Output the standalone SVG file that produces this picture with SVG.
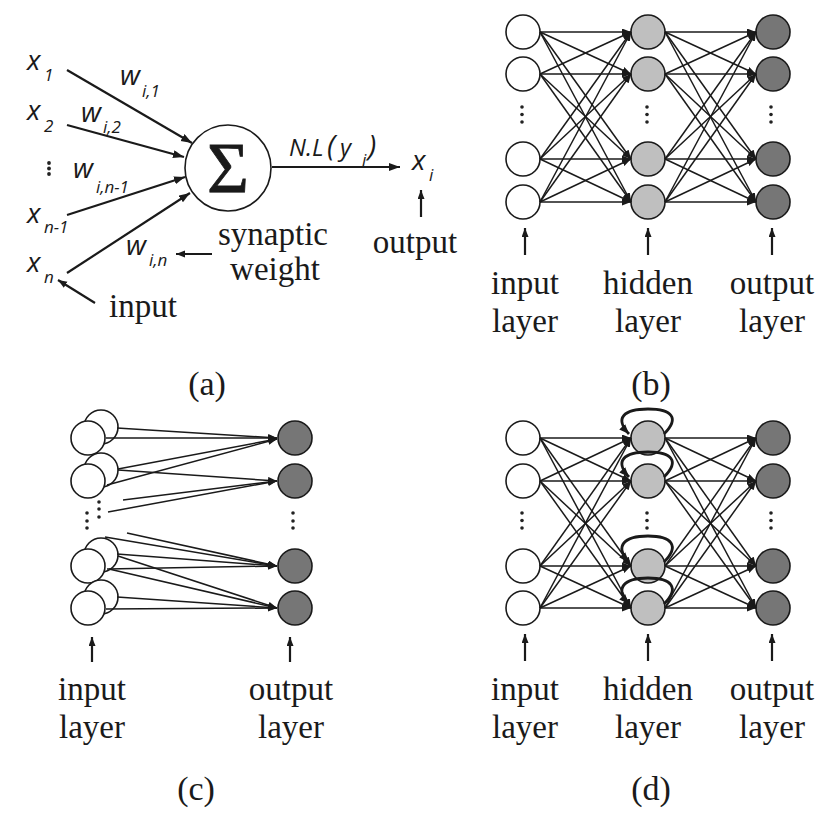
<svg xmlns="http://www.w3.org/2000/svg" width="834" height="828" viewBox="0 0 834 828">
  <style>
    .serif { font-family: "Liberation Serif", "Times New Roman", serif; font-size: 33px; fill: #1a1a1a; text-anchor: middle; }
    .cap { font-family: "Liberation Serif", "Times New Roman", serif; font-size: 34px; fill: #1a1a1a; text-anchor: middle; }
    .it { font-family: "Open Sans", "Noto Sans", sans-serif; font-style: italic; font-size: 28px; fill: #1a1a1a; }
    .sub { font-size: 17px; }
    .in { fill: #ffffff; stroke: #1a1a1a; stroke-width: 1.6; }
    .hid { fill: #bfbfbf; stroke: #1a1a1a; stroke-width: 1.6; }
    .out { fill: #767676; stroke: #1a1a1a; stroke-width: 1.6; }
    .dot { fill: #222; }
    .w { stroke: #1a1a1a; stroke-width: 1.5; fill: none; marker-end: url(#ah); }
    .wa { stroke: #1a1a1a; stroke-width: 2.2; fill: none; marker-end: url(#ahA); }
    .lbl { stroke: #1a1a1a; stroke-width: 2.2; fill: none; marker-end: url(#ah); }
    .loop { stroke: #1a1a1a; stroke-width: 2.8; fill: none; marker-end: url(#ahL); }
  </style>
  <defs>
    <marker id="ah" markerUnits="userSpaceOnUse" markerWidth="10" markerHeight="8" refX="9" refY="3.5" orient="auto">
      <path d="M0,0 L9,3.5 L0,7 Z" fill="#1a1a1a"/>
    </marker>
    <marker id="ahA" markerUnits="userSpaceOnUse" markerWidth="12" markerHeight="10" refX="11" refY="4" orient="auto">
      <path d="M0,0 L11,4 L0,8 Z" fill="#1a1a1a"/>
    </marker>
    <marker id="ahL" markerUnits="userSpaceOnUse" markerWidth="12" markerHeight="10" refX="10" refY="4" orient="auto">
      <path d="M0,0 L10,4 L0,8 Z" fill="#1a1a1a"/>
    </marker>
  </defs>

  <!-- ===== (a) single neuron ===== -->
  <g id="a-sum">
    <circle cx="228" cy="168" r="43" fill="#fff" stroke="#1a1a1a" stroke-width="1.6"/>
    <text x="228" y="192" style="font-family:'Liberation Serif','Times New Roman',serif;font-size:72px;fill:#1a1a1a;text-anchor:middle;stroke:#1a1a1a;stroke-width:0.8">Σ</text>
  </g>
  <g id="a-inputs">
    <text class="it" x="27" y="70">x<tspan class="sub" x="44" y="81">1</tspan></text>
    <text class="it" x="27" y="120">x<tspan class="sub" x="44" y="132">2</tspan></text>
    <circle class="dot" cx="49" cy="163" r="1.9"/>
    <circle class="dot" cx="49" cy="168.5" r="1.9"/>
    <circle class="dot" cx="49" cy="174" r="1.9"/>
    <text class="it" x="27" y="223">x<tspan class="sub" x="44" y="233">n-1</tspan></text>
    <text class="it" x="27" y="272">x<tspan class="sub" x="44" y="283">n</tspan></text>
  </g>
  <g id="a-weights">
    <text class="it" x="120" y="85">w<tspan class="sub" x="142" y="97">i,1</tspan></text>
    <text class="it" x="81" y="122">w<tspan class="sub" x="103" y="133">i,2</tspan></text>
    <text class="it" x="73" y="178">w<tspan class="sub" x="96" y="193">i,n-1</tspan></text>
    <text class="it" x="126" y="255">w<tspan class="sub" x="149" y="266">i,n</tspan></text>
  </g>
  <g id="a-output">
    <text class="it" x="289" y="156" style="font-size:24px">N.L<tspan x="327" style="font-size:29px">(</tspan><tspan x="340">y</tspan><tspan class="sub" x="362" y="166">i</tspan><tspan x="368" y="156" style="font-size:29px">)</tspan></text>
    <text class="it" x="412" y="170">x<tspan class="sub" x="429" y="181">i</tspan></text>
  </g>
  <g id="a-labels">
    <text class="serif" x="273" y="245">synaptic</text>
    <text class="serif" x="275" y="280">weight</text>
    <text class="serif" x="415" y="253">output</text>
    <text class="serif" x="143" y="317">input</text>
    <text class="cap" x="207" y="395">(a)</text>
  </g>

  <!-- ===== (b) feed-forward network ===== -->
  <g id="b-in-1"><circle class="in" cx="523" cy="32" r="17"/></g>
  <g id="b-in-2"><circle class="in" cx="523" cy="74" r="17"/></g>
  <g id="b-in-3"><circle class="in" cx="523" cy="159" r="17"/></g>
  <g id="b-in-4"><circle class="in" cx="523" cy="202" r="17"/></g>
  <g id="b-hid-1"><circle class="hid" cx="648" cy="32" r="17"/></g>
  <g id="b-hid-2"><circle class="hid" cx="648" cy="74" r="17"/></g>
  <g id="b-hid-3"><circle class="hid" cx="648" cy="159" r="17"/></g>
  <g id="b-hid-4"><circle class="hid" cx="648" cy="202" r="17"/></g>
  <g id="b-out-1"><circle class="out" cx="773" cy="32" r="17"/></g>
  <g id="b-out-2"><circle class="out" cx="773" cy="74" r="17"/></g>
  <g id="b-out-3"><circle class="out" cx="773" cy="159" r="17"/></g>
  <g id="b-out-4"><circle class="out" cx="773" cy="202" r="17"/></g>
  <g id="b-ellipses">
    <circle class="dot" cx="522" cy="107" r="1.8"/><circle class="dot" cx="522" cy="114.5" r="1.8"/><circle class="dot" cx="522" cy="122" r="1.8"/>
    <circle class="dot" cx="647" cy="107" r="1.8"/><circle class="dot" cx="647" cy="114.5" r="1.8"/><circle class="dot" cx="647" cy="122" r="1.8"/>
    <circle class="dot" cx="771" cy="107" r="1.8"/><circle class="dot" cx="771" cy="114.5" r="1.8"/><circle class="dot" cx="771" cy="122" r="1.8"/>
  </g>
  <g id="b-labels">
    <text class="serif" x="525" y="294">input</text>
    <text class="serif" x="525" y="332">layer</text>
    <text class="serif" x="648" y="294">hidden</text>
    <text class="serif" x="648" y="332">layer</text>
    <text class="serif" x="772" y="294">output</text>
    <text class="serif" x="772" y="332">layer</text>
    <text class="cap" x="651" y="395">(b)</text>
  </g>

  <!-- ===== (c) single-layer network ===== -->
  <g id="c-in-1"><circle class="in" cx="101" cy="427" r="17"/><circle class="in" cx="88" cy="438" r="17"/></g>
  <g id="c-in-2"><circle class="in" cx="101" cy="470" r="17"/><circle class="in" cx="88" cy="481" r="17"/></g>
  <g id="c-in-3"><circle class="in" cx="101" cy="555" r="17"/><circle class="in" cx="88" cy="566" r="17"/></g>
  <g id="c-in-4"><circle class="in" cx="101" cy="597" r="17"/><circle class="in" cx="88" cy="608" r="17"/></g>
  <g id="c-out-1"><circle class="out" cx="295" cy="438" r="17"/></g>
  <g id="c-out-2"><circle class="out" cx="295" cy="481" r="17"/></g>
  <g id="c-out-3"><circle class="out" cx="295" cy="566" r="17"/></g>
  <g id="c-out-4"><circle class="out" cx="295" cy="608" r="17"/></g>
  <g id="c-ellipses">
    <circle class="dot" cx="87" cy="513" r="1.8"/><circle class="dot" cx="87" cy="521" r="1.8"/><circle class="dot" cx="87" cy="528" r="1.8"/>
    <circle class="dot" cx="99" cy="502" r="1.8"/><circle class="dot" cx="99" cy="509" r="1.8"/><circle class="dot" cx="99" cy="517" r="1.8"/>
    <circle class="dot" cx="293" cy="513" r="1.8"/><circle class="dot" cx="293" cy="521" r="1.8"/><circle class="dot" cx="293" cy="528" r="1.8"/>
  </g>
  <g id="c-labels">
    <text class="serif" x="92" y="700">input</text>
    <text class="serif" x="92" y="738">layer</text>
    <text class="serif" x="291" y="700">output</text>
    <text class="serif" x="291" y="738">layer</text>
    <text class="cap" x="196" y="800">(c)</text>
  </g>

  <!-- ===== (d) recurrent network ===== -->
  <g id="d-in-1"><circle class="in" cx="523" cy="438" r="17"/></g>
  <g id="d-in-2"><circle class="in" cx="523" cy="481" r="17"/></g>
  <g id="d-in-3"><circle class="in" cx="523" cy="566" r="17"/></g>
  <g id="d-in-4"><circle class="in" cx="523" cy="608" r="17"/></g>
  <g id="d-hid-1"><circle class="hid" cx="648" cy="438" r="17"/></g>
  <g id="d-hid-2"><circle class="hid" cx="648" cy="481" r="17"/></g>
  <g id="d-hid-3"><circle class="hid" cx="648" cy="566" r="17"/></g>
  <g id="d-hid-4"><circle class="hid" cx="648" cy="608" r="17"/></g>
  <g id="d-out-1"><circle class="out" cx="773" cy="438" r="17"/></g>
  <g id="d-out-2"><circle class="out" cx="773" cy="481" r="17"/></g>
  <g id="d-out-3"><circle class="out" cx="773" cy="566" r="17"/></g>
  <g id="d-out-4"><circle class="out" cx="773" cy="608" r="17"/></g>
  <g id="d-ellipses">
    <circle class="dot" cx="522" cy="513" r="1.8"/><circle class="dot" cx="522" cy="520.5" r="1.8"/><circle class="dot" cx="522" cy="528" r="1.8"/>
    <circle class="dot" cx="647" cy="513" r="1.8"/><circle class="dot" cx="647" cy="520.5" r="1.8"/><circle class="dot" cx="647" cy="528" r="1.8"/>
    <circle class="dot" cx="771" cy="513" r="1.8"/><circle class="dot" cx="771" cy="520.5" r="1.8"/><circle class="dot" cx="771" cy="528" r="1.8"/>
  </g>
  <g id="d-labels">
    <text class="serif" x="525" y="700">input</text>
    <text class="serif" x="525" y="738">layer</text>
    <text class="serif" x="648" y="700">hidden</text>
    <text class="serif" x="648" y="738">layer</text>
    <text class="serif" x="772" y="700">output</text>
    <text class="serif" x="772" y="738">layer</text>
    <text class="cap" x="651" y="800">(d)</text>
  </g>

  <!-- ===== connectors ===== -->
  <g id="connectors">
    <!-- (a) -->
    <line class="wa" x1="67" y1="70" x2="192" y2="143"/>
    <line class="wa" x1="67" y1="125" x2="184" y2="157"/>
    <line class="wa" x1="67" y1="215" x2="185" y2="177"/>
    <line class="wa" x1="67" y1="273" x2="190" y2="193"/>
    <line class="wa" x1="272" y1="167" x2="400" y2="167"/>
    <line class="lbl" x1="421" y1="217" x2="421" y2="190"/>
    <line class="lbl" x1="212" y1="254" x2="176" y2="254"/>
    <line class="lbl" x1="95" y1="303" x2="58" y2="280"/>

    <!-- (b) input to hidden -->
    <line class="w" x1="540" y1="32" x2="631" y2="32"/>
    <line class="w" x1="540" y1="32" x2="631" y2="74"/>
    <line class="w" x1="540" y1="32" x2="631" y2="159"/>
    <line class="w" x1="540" y1="32" x2="631" y2="202"/>
    <line class="w" x1="540" y1="74" x2="631" y2="32"/>
    <line class="w" x1="540" y1="74" x2="631" y2="74"/>
    <line class="w" x1="540" y1="74" x2="631" y2="159"/>
    <line class="w" x1="540" y1="74" x2="631" y2="202"/>
    <line class="w" x1="540" y1="159" x2="631" y2="32"/>
    <line class="w" x1="540" y1="159" x2="631" y2="74"/>
    <line class="w" x1="540" y1="159" x2="631" y2="159"/>
    <line class="w" x1="540" y1="159" x2="631" y2="202"/>
    <line class="w" x1="540" y1="202" x2="631" y2="32"/>
    <line class="w" x1="540" y1="202" x2="631" y2="74"/>
    <line class="w" x1="540" y1="202" x2="631" y2="159"/>
    <line class="w" x1="540" y1="202" x2="631" y2="202"/>
    <!-- (b) hidden to output -->
    <line class="w" x1="665" y1="32" x2="756" y2="32"/>
    <line class="w" x1="665" y1="32" x2="756" y2="74"/>
    <line class="w" x1="665" y1="32" x2="756" y2="159"/>
    <line class="w" x1="665" y1="32" x2="756" y2="202"/>
    <line class="w" x1="665" y1="74" x2="756" y2="32"/>
    <line class="w" x1="665" y1="74" x2="756" y2="74"/>
    <line class="w" x1="665" y1="74" x2="756" y2="159"/>
    <line class="w" x1="665" y1="74" x2="756" y2="202"/>
    <line class="w" x1="665" y1="159" x2="756" y2="32"/>
    <line class="w" x1="665" y1="159" x2="756" y2="74"/>
    <line class="w" x1="665" y1="159" x2="756" y2="159"/>
    <line class="w" x1="665" y1="159" x2="756" y2="202"/>
    <line class="w" x1="665" y1="202" x2="756" y2="32"/>
    <line class="w" x1="665" y1="202" x2="756" y2="74"/>
    <line class="w" x1="665" y1="202" x2="756" y2="159"/>
    <line class="w" x1="665" y1="202" x2="756" y2="202"/>
    <!-- (b) layer pointers -->
    <line class="lbl" x1="525" y1="255" x2="525" y2="228"/>
    <line class="lbl" x1="648" y1="255" x2="648" y2="228"/>
    <line class="lbl" x1="772" y1="255" x2="772" y2="228"/>

    <!-- (c) input to output -->
    <line class="w" x1="117" y1="428" x2="277" y2="438"/>
    <line class="w" x1="106" y1="438" x2="277" y2="438"/>
    <line class="w" x1="118" y1="469" x2="277" y2="439"/>
    <line class="w" x1="107" y1="485" x2="277" y2="439"/>
    <line class="w" x1="118" y1="470" x2="277" y2="481"/>
    <line class="w" x1="123" y1="500" x2="277" y2="481"/>
    <line class="w" x1="108" y1="512" x2="277" y2="481"/>
    <line class="w" x1="127" y1="533" x2="277" y2="566"/>
    <line class="w" x1="105" y1="537" x2="277" y2="566"/>
    <line class="w" x1="117" y1="554" x2="277" y2="566"/>
    <line class="w" x1="107" y1="569" x2="277" y2="566"/>
    <line class="w" x1="118" y1="556" x2="277" y2="608"/>
    <line class="w" x1="109" y1="569" x2="277" y2="608"/>
    <line class="w" x1="117" y1="597" x2="277" y2="608"/>
    <line class="w" x1="106" y1="609" x2="277" y2="608"/>
    <!-- (c) layer pointers -->
    <line class="lbl" x1="92" y1="662" x2="92" y2="637"/>
    <line class="lbl" x1="290" y1="662" x2="290" y2="637"/>

    <!-- (d) input to hidden -->
    <line class="w" x1="540" y1="438" x2="631" y2="438"/>
    <line class="w" x1="540" y1="438" x2="631" y2="481"/>
    <line class="w" x1="540" y1="438" x2="631" y2="566"/>
    <line class="w" x1="540" y1="438" x2="631" y2="608"/>
    <line class="w" x1="540" y1="481" x2="631" y2="438"/>
    <line class="w" x1="540" y1="481" x2="631" y2="481"/>
    <line class="w" x1="540" y1="481" x2="631" y2="566"/>
    <line class="w" x1="540" y1="481" x2="631" y2="608"/>
    <line class="w" x1="540" y1="566" x2="631" y2="438"/>
    <line class="w" x1="540" y1="566" x2="631" y2="481"/>
    <line class="w" x1="540" y1="566" x2="631" y2="566"/>
    <line class="w" x1="540" y1="566" x2="631" y2="608"/>
    <line class="w" x1="540" y1="608" x2="631" y2="438"/>
    <line class="w" x1="540" y1="608" x2="631" y2="481"/>
    <line class="w" x1="540" y1="608" x2="631" y2="566"/>
    <line class="w" x1="540" y1="608" x2="631" y2="608"/>
    <!-- (d) hidden to output -->
    <line class="w" x1="665" y1="438" x2="756" y2="438"/>
    <line class="w" x1="665" y1="438" x2="756" y2="481"/>
    <line class="w" x1="665" y1="438" x2="756" y2="566"/>
    <line class="w" x1="665" y1="438" x2="756" y2="608"/>
    <line class="w" x1="665" y1="481" x2="756" y2="438"/>
    <line class="w" x1="665" y1="481" x2="756" y2="481"/>
    <line class="w" x1="665" y1="481" x2="756" y2="566"/>
    <line class="w" x1="665" y1="481" x2="756" y2="608"/>
    <line class="w" x1="665" y1="566" x2="756" y2="438"/>
    <line class="w" x1="665" y1="566" x2="756" y2="481"/>
    <line class="w" x1="665" y1="566" x2="756" y2="566"/>
    <line class="w" x1="665" y1="566" x2="756" y2="608"/>
    <line class="w" x1="665" y1="608" x2="756" y2="438"/>
    <line class="w" x1="665" y1="608" x2="756" y2="481"/>
    <line class="w" x1="665" y1="608" x2="756" y2="566"/>
    <line class="w" x1="665" y1="608" x2="756" y2="608"/>
    <!-- (d) self-loops on hidden units -->
    <path class="loop" d="M664,434 C680,418 672,409 648,409 C624,409 614,418 629,434"/>
    <path class="loop" d="M664,477 C680,461 672,452 648,452 C624,452 614,461 629,477"/>
    <path class="loop" d="M664,562 C680,546 672,536 648,536 C624,536 614,546 629,562"/>
    <path class="loop" d="M664,604 C680,588 672,578 648,578 C624,578 614,588 629,604"/>
    <!-- (d) layer pointers -->
    <line class="lbl" x1="525" y1="661" x2="525" y2="634"/>
    <line class="lbl" x1="648" y1="661" x2="648" y2="634"/>
    <line class="lbl" x1="772" y1="661" x2="772" y2="634"/>
  </g>
</svg>
